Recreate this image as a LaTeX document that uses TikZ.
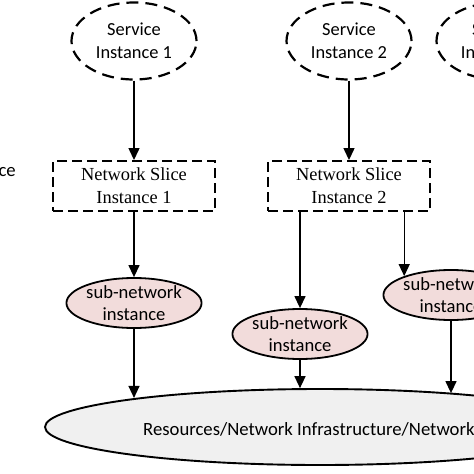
\documentclass[tikz,border=0pt]{standalone}
\usepackage{fontspec}
\setmainfont{Carlito}
\newfontfamily\tnr{Liberation Serif}
\usetikzlibrary{shapes.geometric,arrows.meta}
\definecolor{snpink}{HTML}{F2DCDB}
\definecolor{resgray}{HTML}{F0F0F0}
\tikzset{
  svc/.style={ellipse,draw,line width=2.2pt,dash pattern=on 12pt off 7pt,minimum width=125pt,minimum height=77pt,inner sep=0pt,align=center,font=\fontsize{18.4}{23}\selectfont},
  nsibox/.style={rectangle,draw,line width=1.9pt,dash pattern=on 10pt off 5pt,minimum width=162pt,minimum height=50pt,inner sep=0pt,align=center,font=\tnr\fontsize{18.4}{23}\selectfont},
  subnet/.style={ellipse,draw,line width=1.8pt,fill=snpink,minimum width=125pt,minimum height=50pt,inner sep=0pt,align=center,font=\fontsize{18.6}{22}\selectfont},
  resell/.style={ellipse,draw,line width=1.9pt,fill=resgray,minimum width=550pt,minimum height=76pt,inner sep=0pt},
  arr/.style={line width=1.3pt,-{Triangle[width=11pt,length=12pt]}},
  lbl/.style={font=\fontsize{18.7}{22}\selectfont,inner sep=0pt}
}
\begin{document}
\begin{tikzpicture}[x=1pt,y=-1pt]
\useasboundingbox (0,0) rectangle (474,474);
\clip (0,0) rectangle (474,474);
\fill[white] (0,0) rectangle (474,474);
% layer label (cut off at left)
\node[lbl,anchor=east] (lay) at (16,172) {ce};
% service instances
\node[svc] (si1) at (134,41) {Service\\Instance 1};
\node[svc] (si2) at (349,41) {Service\\Instance 2};
\node[svc] (si3) at (499,41) {Service\\Instance 3};
% network slice instances
\node[nsibox] (nsi1) at (134,186) {Network Slice\\Instance 1};
\node[nsibox] (nsi2) at (349,186) {Network Slice\\Instance 2};
% sub-network instances
\node[subnet] (sn1) at (134,303) {sub-network\\instance};
\node[subnet] (sn2) at (300,334) {sub-network\\instance};
\node[subnet] (sn3) at (451,295) {sub-network\\instance};
% resources
\node[resell] (res) at (320,427) {};
\node[lbl,anchor=west] (restxt) at (143,429) {Resources/Network Infrastructure/Network};
% connectors
\draw[arr] (si1.south) -- (nsi1.north);
\draw[arr] (si2.south) -- (nsi2.north);
\draw[arr] (nsi1.south) -- (sn1.north);
\draw[arr] (nsi2.south -| sn2.north) -- (sn2.north);
\draw[arr] (nsi2.south -| sn3.158) -- (sn3.158);
\draw[arr] (sn1.south) -- (sn1.south |- res.171);
\draw[arr] (sn2.south) -- (sn2.south |- res.118);
\draw[arr] (sn3.south) -- (sn3.south |- res.14);
\end{tikzpicture}
\end{document}
